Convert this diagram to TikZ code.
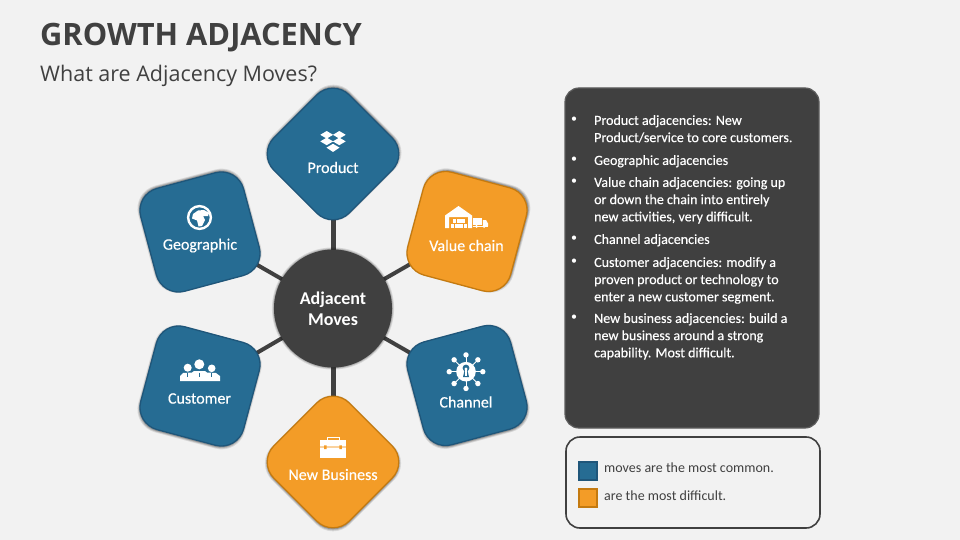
\documentclass[tikz,border=0pt]{standalone}
\usepackage{fontspec}
\setmainfont{Carlito}
\newfontfamily\headfont{Open Sans}
\newfontfamily\semifont[FakeBold=0.35]{Carlito}
\usetikzlibrary{backgrounds,shadows}
\definecolor{slidebg}{HTML}{F2F2F2}
\definecolor{darkgrey}{HTML}{404040}
\definecolor{tileblue}{HTML}{266C93}
\definecolor{tileblueline}{HTML}{1F567A}
\definecolor{tileorange}{HTML}{F39C27}
\definecolor{tileorangeline}{HTML}{C47A10}
\tikzset{
    lift/.style 2 args={
        general shadow={fill=black,opacity=0.10,shadow scale=1.035,shadow xshift=#1,shadow yshift=#2},
        general shadow={fill=black,opacity=0.14,shadow scale=1.02,shadow xshift=#1,shadow yshift=#2},
        general shadow={fill=black,opacity=0.20,shadow scale=1.005,shadow xshift=#1,shadow yshift=#2}},
    tile/.style={minimum size=106.5pt,inner sep=0pt,outer sep=0pt,rounded corners=23pt,line width=1.3pt},
    bluetile/.style={tile,fill=tileblue,draw=tileblueline},
    orangetile/.style={tile,fill=tileorange,draw=tileorangeline},
    tilelabel/.style={text=white,inner sep=0pt,font=\fontsize{16}{19}\semifont},
    spoke/.style={draw=darkgrey,line width=4pt},
    panelline/.style={text=white,anchor=north west,inner sep=0pt,align=left,font=\fontsize{14}{17.2}\semifont},
    legendbox/.style={minimum size=18pt,inner sep=0pt,line width=1.5pt},
    legendtext/.style={text=darkgrey,anchor=west,inner sep=0pt,font=\fontsize{14}{17}\selectfont},
}
\begin{document}
\begin{tikzpicture}[x=1pt,y=-1pt]
    \useasboundingbox (0,0) rectangle (960,540);
    % title block
    \node[anchor=west,inner sep=0pt,text=darkgrey,font=\fontsize{30.8}{36}\selectfont\headfont\bfseries] (title) at (40,37.5) {GROWTH ADJACENCY};
    \node[anchor=west,inner sep=0pt,text=darkgrey,font=\fontsize{21.5}{26}\selectfont\headfont] (subtitle) at (40,76) {What are Adjacency Moves?};
    % hub and tiles
    \node[circle,fill=darkgrey,minimum size=118pt,inner sep=0pt,lift={0pt}{0pt},align=center,text=white,font=\fontsize{18}{21}\selectfont\bfseries] (hub) at (333,308.5) {Adjacent\\Moves};
    \node[bluetile,rotate=45,lift={0.4pt}{1.2pt}] (product) at (333,154) {};
    \node[bluetile,rotate=15,lift={-0.4pt}{1.2pt}] (geographic) at (200,232) {};
    \node[orangetile,rotate=-15,lift={1.2pt}{1pt}] (valuechain) at (467,231.5) {};
    \node[bluetile,rotate=-15,lift={-0.4pt}{-1.2pt}] (customer) at (200,386) {};
    \node[bluetile,rotate=15,lift={0.4pt}{-1.2pt}] (channel) at (467,385.5) {};
    \node[orangetile,rotate=45,lift={0pt}{-1.2pt}] (newbusiness) at (333,462) {};
    \begin{pgfonlayer}{background}
        \fill[slidebg] (0,0) rectangle (960,540);
        \draw[spoke,line width=5pt] (hub.center) -- (product.center);
        \draw[spoke,line width=5pt] (hub.center) -- (newbusiness.center);
        \foreach \tilename in {geographic,valuechain,customer,channel}
            \draw[spoke] (hub.center) -- (\tilename.center);
    \end{pgfonlayer}
    \node[tilelabel] (productlabel) at (333,167.5) {Product};
    \node[tilelabel] (geographiclabel) at (200,245.5) {Geographic};
    \node[tilelabel] (valuechainlabel) at (466.5,245.5) {Value chain};
    \node[tilelabel] (customerlabel) at (199.5,398.5) {Customer};
    \node[tilelabel] (channellabel) at (466,402) {Channel};
    \node[tilelabel] (newbusinesslabel) at (333,474.5) {New Business};
    % product icon
    \foreach \cx/\cy in {326.7/135,339.3/135,326.7/141.6,339.3/141.6}
        \fill[white] (\cx-6.4,\cy-0.2) -- (\cx,\cy-4) -- (\cx+6.4,\cy-0.2) -- (\cx,\cy+3.6) -- cycle;
    \fill[white] (326.5,147.6) -- (333,143.8) -- (339.5,147.6) -- (333,152) -- cycle;
    % geographic icon
    \draw[white,line width=2.4pt] (199.5,217.5) circle (11.4);
    \fill[white] (193,214) -- (198,210.5) -- (204,210) -- (209,213) -- (208,216) -- (203,216) -- (205,220) -- (202,226) -- (198.5,226.5) -- (197,220.5) -- (192,218.5) -- cycle;
    % value chain icon
    \fill[white] (445,215.5) -- (458.5,206) -- (472,215.5) -- (472,228) -- (468,228) -- (468,217) -- (449,217) -- (449,228) -- (445,228) -- cycle;
    \foreach \bx in {451,455.2,459.4,463.6}
        \fill[white] (\bx,223.8) rectangle ++(3.4,4.2);
    \foreach \bx in {453,457.2,461.4}
        \fill[white] (\bx,219) rectangle ++(3.4,4);
    \fill[white] (472.5,218) rectangle (482,225);
    \fill[white] (482.8,220) -- (486,220) -- (488,223.5) -- (488,226) -- (482.8,226) -- cycle;
    \fill[white] (472.5,225.6) rectangle (488,226.4);
    \fill[white] (476.5,226.4) circle (1.6) (484,226.4) circle (1.6);
    % channel icon
    \foreach \ang in {0,45,...,315}{
        \draw[white,line width=0.9pt] (466,371.7) -- ++(\ang:16);
        \fill[white] (466,371.7) ++(\ang:16.8) circle (2.7);
    }
    \fill[white] (466,371.7) circle (9.8);
    \fill[tileblue] (466,368) circle (3.4);
    \fill[tileblue] (464.6,370) -- (467.4,370) -- (469,377) -- (463,377) -- cycle;
    \fill[white] (466,369) circle (1.6);
    \fill[white] (465.3,370) rectangle (466.7,376);
    % customer icon
    \fill[white] (187.7,367.7) circle (4) (199.3,364.3) circle (5) (211.7,368.3) circle (3.8);
    \fill[white] (180,381) -- (180,376) -- (183,373) -- (192,372.5) -- (194,371) -- (205,371) -- (207,372.5) -- (216,373) -- (220,376) -- (220,381) -- cycle;
    \foreach \tx in {187.7,199.3,211.7}
        \draw[tileblue,line width=0.7pt] (\tx,372.5) -- (\tx,376.5);
    % new business icon
    \draw[white,line width=1pt] (327,440) -- (327,437.6) -- (339,437.6) -- (339,440);
    \fill[white] (320,440) rectangle (346,458);
    \fill[tileorange!45!white] (320,446) rectangle (346,447.8);
    \fill[tileorange] (324.2,445.4) rectangle (326.6,449) (339.4,445.4) rectangle (341.8,449);
    % description panel
    \node[draw=darkgrey!85!white,fill=darkgrey,line width=1.2pt,rounded corners=14pt,minimum width=254pt,minimum height=340pt,inner sep=0pt] (panel) at (692,258) {};
    \foreach \ypos/\itemtext [count=\itemnum] in {
        115/{Product adjacencies: New\\Product/service to core customers.},
        155/{Geographic adjacencies},
        177/{Value chain adjacencies: going up\\or down the chain into entirely\\new activities, very difficult.},
        234/{Channel adjacencies},
        257/{Customer adjacencies: modify a\\proven product or technology to\\enter a new customer segment.},
        313/{New business adjacencies: build a\\new business around a strong\\capability. Most difficult.}}{
        \node[panelline] (item\itemnum) at (594,\ypos) {\itemtext};
        \node[panelline,anchor=north,font=\fontsize{12}{14}\selectfont] (bullet\itemnum) at (574,\ypos+1.5) {\textbullet};
    }
    % legend
    \node[draw=darkgrey,fill=slidebg,line width=1.6pt,rounded corners=14pt,minimum width=254pt,minimum height=91pt,inner sep=0pt] (legend) at (693,482.5) {};
    \node[legendbox,fill=tileblue,draw=tileblueline,lift={0pt}{1pt}] (bluekey) at (588,471) {};
    \node[legendbox,fill=tileorange,draw=tileorangeline,lift={0pt}{-1pt}] (orangekey) at (588,498) {};
    \node[legendtext] (bluenote) at (604,468) {moves are the most common.};
    \node[legendtext] (orangenote) at (604,496) {are the most difficult.};
\end{tikzpicture}
\end{document}
